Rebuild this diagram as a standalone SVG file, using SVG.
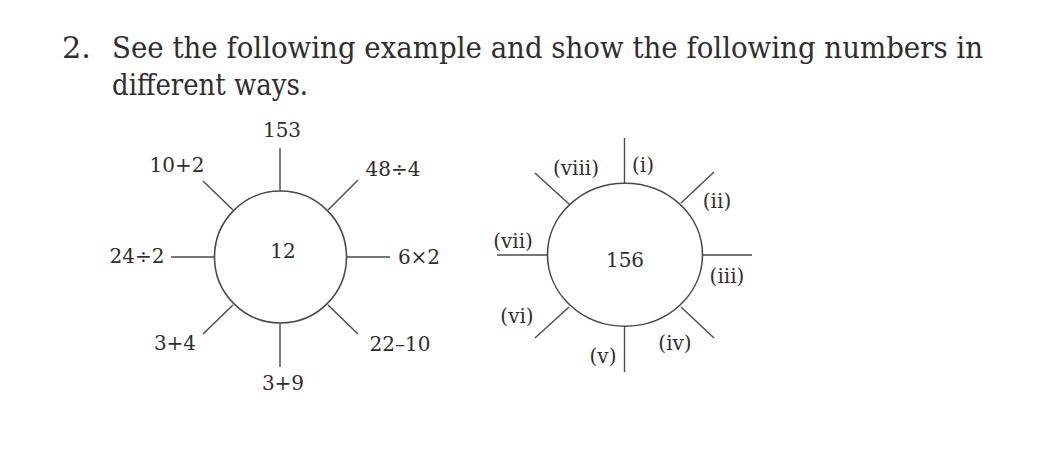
<svg xmlns="http://www.w3.org/2000/svg" width="1058" height="462" viewBox="0 0 1058 462">
<style>
.t{font-family:"DejaVu Serif","Liberation Serif",serif;fill:#2e2e2e}
.title{font-size:29px}
.lb{font-size:20px;text-anchor:middle}
.ln{stroke:#4a4a4a;stroke-width:1.4;fill:none}
.ring{stroke:#4a4a4a;stroke-width:1.6;fill:#fff}
</style>
<rect width="1058" height="462" fill="#fff"/>
<g id="title">
<text class="t title" x="62" y="58" textLength="29" lengthAdjust="spacingAndGlyphs">2.</text>
<text class="t title" x="112" y="58" textLength="871" lengthAdjust="spacingAndGlyphs">See the following example and show the following numbers in</text>
<text class="t title" x="112" y="95" textLength="196" lengthAdjust="spacingAndGlyphs">different ways.</text>
</g>
<g id="connectors">
<line class="ln" x1="280" y1="148" x2="280" y2="191"/>
<line class="ln" x1="280" y1="323" x2="280" y2="367"/>
<line class="ln" x1="171" y1="257" x2="214" y2="257"/>
<line class="ln" x1="347" y1="257" x2="390" y2="257"/>
<line class="ln" x1="203" y1="181" x2="233" y2="210"/>
<line class="ln" x1="358" y1="180" x2="328" y2="210"/>
<line class="ln" x1="233" y1="305" x2="203" y2="334"/>
<line class="ln" x1="328" y1="305" x2="358" y2="334"/>
<line class="ln" x1="624.5" y1="138" x2="624.5" y2="183"/>
<line class="ln" x1="624.5" y1="326" x2="624.5" y2="372"/>
<line class="ln" x1="497" y1="255" x2="548" y2="255"/>
<line class="ln" x1="703" y1="255" x2="752" y2="255"/>
<line class="ln" x1="535" y1="173" x2="569" y2="204"/>
<line class="ln" x1="714" y1="172" x2="681" y2="203"/>
<line class="ln" x1="569" y1="307" x2="535" y2="338"/>
<line class="ln" x1="681" y1="307" x2="714" y2="338"/>
</g>
<g id="node-12">
<circle class="ring" cx="280.5" cy="257" r="66"/>
<text class="t lb" x="283" y="258">12</text>
</g>
<g id="node-156">
<ellipse class="ring" cx="625" cy="254.7" rx="77.5" ry="71.5"/>
<text class="t lb" x="625" y="267">156</text>
</g>
<g id="labels-12">
<text class="t lb" x="282" y="137">153</text>
<text class="t lb" x="177" y="172">10+2</text>
<text class="t lb" x="393" y="176">48÷4</text>
<text class="t lb" x="137" y="263">24÷2</text>
<text class="t lb" x="419" y="264">6×2</text>
<text class="t lb" x="175" y="350">3+4</text>
<text class="t lb" x="400" y="351">22–10</text>
<text class="t lb" x="283" y="390">3+9</text>
</g>
<g id="labels-156">
<text class="t lb" x="576" y="175">(viii)</text>
<text class="t lb" x="643" y="172">(i)</text>
<text class="t lb" x="717" y="208">(ii)</text>
<text class="t lb" x="513" y="248">(vii)</text>
<text class="t lb" x="727" y="283">(iii)</text>
<text class="t lb" x="517" y="323">(vi)</text>
<text class="t lb" x="675" y="350">(iv)</text>
<text class="t lb" x="603" y="363">(v)</text>
</g>
</svg>
